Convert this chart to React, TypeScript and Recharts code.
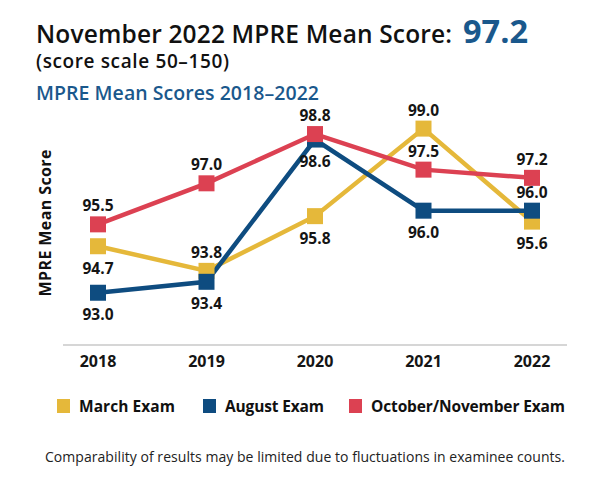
import React from 'react';
import { LineChart, Line, XAxis, YAxis, LabelList } from 'recharts';

const years = ['2018', '2019', '2020', '2021', '2022'];
const marchScores = [94.7, 93.8, 95.8, 99.0, 95.6];
const augustScores = [93.0, 93.4, 98.6, 96.0, 96.0];
const octNovScores = [95.5, 97.0, 98.8, 97.5, 97.2];

const marchLabelSides = ['below', 'above', 'below', 'above', 'below'];
const augustLabelSides = ['below', 'below', 'below', 'below', 'above'];
const octNovLabelSides = ['above', 'above', 'above', 'above', 'above'];

const seriesNames = ['March Exam', 'August Exam', 'October/November Exam'];
const seriesKeys = ['march', 'august', 'octnov'];
const seriesColors = ['#E5B83A', '#0E4C80', '#DC4152'];

const titleText = 'November 2022 MPRE Mean Score:';
const titleValue = '97.2';
const subtitleText = '(score scale 50\u2013150)';
const chartHeading = 'MPRE Mean Scores 2018\u20132022';
const yAxisTitle = 'MPRE Mean Score';
const footnote = 'Comparability of results may be limited due to fluctuations in examinee counts.';

const data = years.map((year, i) => ({
  year,
  march: marchScores[i],
  august: augustScores[i],
  octnov: octNovScores[i],
}));

const labelSides = [marchLabelSides, augustLabelSides, octNovLabelSides];

const FONT = '"Open Sans", "DejaVu Sans", sans-serif';
const W = 599;
const H = 493;

const makeDot = (color: string) => (props: any) => {
  const { cx, cy, index } = props;
  if (cx == null || cy == null) return <g key={`d-${index}`} />;
  return <rect key={`d-${color}-${index}`} x={cx - 8} y={cy - 8} width={16} height={16} fill={color} />;
};

const makeLabel = (sides: string[]) => (props: any) => {
  const { x, y, value, index } = props;
  const side = sides[index];
  const by = side === 'above' ? y - 13 : y + 27.5;
  return (
    <text
      key={`l-${index}`}
      x={x}
      y={by}
      textAnchor="middle"
      fontFamily={FONT}
      fontWeight={700}
      fontSize={15.5}
      fill="#151515"
    >
      {Number(value).toFixed(1)}
    </text>
  );
};

export default function App() {
  const legendX = [57, 203, 349];
  const legendTextX = [79, 225, 371];
  const legendTextLen = [96, 99, 194];
  return (
    <div style={{ position: 'absolute', left: 0, top: 0, width: W, height: H, background: '#fff', overflow: 'hidden' }}>
      <LineChart
        width={W}
        height={H}
        data={data}
        margin={{ top: 110, right: 32, bottom: 118, left: 63 }}
      >
        <XAxis
          dataKey="year"
          padding={{ left: 35, right: 35 }}
          axisLine={{ stroke: '#c9c9c9', strokeWidth: 1.5 }}
          tickLine={false}
          tickSize={0}
          tickMargin={11}
          height={30}
          tick={{ fontFamily: FONT, fontWeight: 700, fontSize: 16, fill: '#151515' }}
        />
        <YAxis hide width={0} domain={[91.09, 99.68]} />
        {seriesKeys.map((key, i) => (
          <Line
            key={key}
            dataKey={key}
            name={seriesNames[i]}
            stroke={seriesColors[i]}
            strokeWidth={4.5}
            dot={makeDot(seriesColors[i])}
            activeDot={false}
            isAnimationActive={false}
          >
            <LabelList dataKey={key} content={makeLabel(labelSides[i])} />
          </Line>
        ))}
      </LineChart>
      <svg
        width={W}
        height={H}
        style={{ position: 'absolute', left: 0, top: 0, pointerEvents: 'none' }}
      >
        <text x={36} y={43} fontFamily={FONT} fontWeight={600} fontSize={24.5} fill="#111" textLength={416} lengthAdjust="spacing">
          {titleText}
        </text>
        <text x={463} y={43} fontFamily={FONT} fontWeight={700} fontSize={33} fill="#1A588C" textLength={65} lengthAdjust="spacingAndGlyphs">
          {titleValue}
        </text>
        <text x={36} y={68} fontFamily={FONT} fontWeight={600} fontSize={19} fill="#111" textLength={193} lengthAdjust="spacing">
          {subtitleText}
        </text>
        <text x={36} y={100} fontFamily={FONT} fontWeight={600} fontSize={19.5} fill="#1A588C" textLength={283} lengthAdjust="spacing">
          {chartHeading}
        </text>
        <text
          x={51}
          y={223}
          transform="rotate(-90 51 223)"
          textAnchor="middle"
          fontFamily={FONT}
          fontWeight={700}
          fontSize={16}
          fill="#111"
          textLength={147}
          lengthAdjust="spacing"
        >
          {yAxisTitle}
        </text>
        {seriesNames.map((name, i) => (
          <g key={name}>
            <rect x={legendX[i]} y={399} width={13} height={14} fill={seriesColors[i]} />
            <text x={legendTextX[i]} y={412} fontFamily={FONT} fontWeight={700} fontSize={15.5} fill="#111" textLength={legendTextLen[i]} lengthAdjust="spacing">
              {name}
            </text>
          </g>
        ))}
        <text x={45} y={462} fontFamily={FONT} fontWeight={400} fontSize={14} fill="#222" textLength={520} lengthAdjust="spacing">
          {footnote}
        </text>
      </svg>
    </div>
  );
}
